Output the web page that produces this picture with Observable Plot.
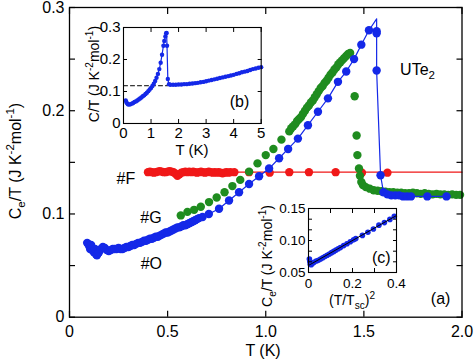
<!DOCTYPE html>
<html><head><meta charset="utf-8">
<script src="https://cdn.jsdelivr.net/npm/d3@7"></script>
<script src="https://cdn.jsdelivr.net/npm/@observablehq/plot@0.6"></script>
<style>
body{margin:0;background:#fff;}
#chart{position:relative;width:474px;height:362px;overflow:hidden;}
#chart > div{position:absolute;}
</style>
</head><body><div id="chart"></div>
<script>
// ---------- data (T in K, C/T in J K^-2 mol^-1) ----------
const sampleF = [[0.40,0.1405],[0.41,0.141],[0.42,0.1405],[0.43,0.140],[0.44,0.1405],[0.45,0.141],[0.46,0.1415],[0.47,0.141],[0.48,0.1405],[0.49,0.1405],[0.50,0.141],[0.51,0.1415],[0.52,0.141],[0.53,0.1405],[0.54,0.139],[0.55,0.137],[0.56,0.1385],[0.57,0.140],[0.58,0.1405],[0.59,0.141],[0.60,0.1405],[0.61,0.141],[0.62,0.1405],[0.63,0.141],[0.64,0.1405],[0.65,0.140],[0.66,0.1405],[0.67,0.141],[0.68,0.1405],[0.69,0.140],[0.70,0.1405],[0.71,0.141],[0.72,0.1405],[0.73,0.140],[0.74,0.1405],[0.75,0.140],[0.76,0.1405],[0.77,0.140],[0.78,0.1395],[0.79,0.140],[0.80,0.1405],[0.81,0.140],[0.82,0.1405],[0.84,0.1405],[0.915,0.1405],[1.02,0.140],[1.12,0.1405],[1.22,0.1405],[1.356,0.1405],[1.49,0.140],[1.62,0.140]];
const lineF = [[0.40,0.1405],[2.0,0.1405]];

const sampleG = [[0.567,0.0986],[0.601,0.102],[0.635,0.104],[0.669,0.107],[0.711,0.1115],[0.75,0.116],[0.79,0.121],[0.83,0.127],[0.87,0.133],[0.915,0.141],[0.958,0.149],[1.0,0.157],[1.039,0.163],[1.08,0.172],[1.12,0.180],[1.13,0.183],[1.14,0.185],[1.15,0.187],[1.16,0.190],[1.17,0.192],[1.18,0.194],[1.19,0.197],[1.20,0.200],[1.21,0.203],[1.22,0.205],[1.23,0.208],[1.24,0.210],[1.25,0.213],[1.26,0.216],[1.27,0.219],[1.28,0.222],[1.29,0.224],[1.30,0.227],[1.31,0.229],[1.32,0.232],[1.33,0.235],[1.34,0.237],[1.35,0.240],[1.36,0.242],[1.37,0.245],[1.38,0.247],[1.39,0.249],[1.40,0.251],[1.41,0.253],[1.42,0.255],[1.43,0.256],[1.453,0.214],[1.463,0.176],[1.467,0.157],[1.475,0.144],[1.48,0.137],[1.487,0.131],[1.495,0.128],[1.51,0.126],[1.53,0.1245],[1.55,0.123],[1.57,0.1225],[1.59,0.122],[1.61,0.1215],[1.63,0.121],[1.65,0.121],[1.67,0.1205],[1.69,0.1205],[1.71,0.120],[1.73,0.120],[1.75,0.1205],[1.77,0.120],[1.79,0.1195],[1.81,0.120],[1.83,0.1195],[1.85,0.119],[1.87,0.1195],[1.89,0.119],[1.91,0.119],[1.93,0.1185],[1.95,0.119],[1.97,0.1185],[1.99,0.1185]];

const sampleO = [[0.09,0.072],[0.095,0.071],[0.10,0.069],[0.105,0.066],[0.11,0.070],[0.115,0.067],[0.12,0.064],[0.125,0.063],[0.13,0.066],[0.135,0.061],[0.14,0.060],[0.145,0.062],[0.15,0.063],[0.16,0.066],[0.17,0.068],[0.18,0.067],[0.19,0.065],[0.20,0.064],[0.21,0.065],[0.22,0.066],[0.23,0.066],[0.24,0.066],[0.25,0.067],[0.26,0.066],[0.27,0.066],[0.28,0.067],[0.29,0.068],[0.30,0.068],[0.31,0.069],[0.32,0.070],[0.33,0.070],[0.34,0.071],[0.35,0.072],[0.36,0.072],[0.37,0.073],[0.38,0.074],[0.39,0.074],[0.40,0.075],[0.41,0.076],[0.42,0.076],[0.43,0.077],[0.44,0.078],[0.45,0.078],[0.46,0.079],[0.47,0.080],[0.48,0.081],[0.49,0.082],[0.50,0.082],[0.51,0.083],[0.52,0.084],[0.53,0.085],[0.54,0.086],[0.55,0.087],[0.56,0.087],[0.57,0.088],[0.58,0.089],[0.59,0.089],[0.60,0.090],[0.61,0.091],[0.62,0.092],[0.63,0.093],[0.64,0.094],[0.65,0.095],[0.66,0.096],[0.678,0.097],[0.71,0.100],[0.762,0.105],[0.813,0.113],[0.864,0.121],[0.915,0.129],[0.966,0.1365],[1.017,0.144],[1.068,0.154],[1.114,0.163],[1.164,0.173],[1.215,0.186],[1.266,0.199],[1.317,0.212],[1.368,0.228],[1.41,0.238],[1.45,0.250],[1.487,0.264],[1.526,0.278],[1.565,0.277],[1.565,0.275],[1.565,0.239],[1.585,0.1375],[1.60,0.121],[1.62,0.119],[1.64,0.118],[1.66,0.118],[1.68,0.118],[1.70,0.117],[1.72,0.117],[1.74,0.117],[1.823,0.117],[1.921,0.117]];
const peakO = [1.565,0.289]; // top of the drawn line for #O

// inset (b): C/T vs T up to 5 K
const insetB = [[0.08,0.072],[0.1,0.068],[0.13,0.063],[0.16,0.060],[0.2,0.059],[0.25,0.060],[0.3,0.062],[0.35,0.064],[0.4,0.067],[0.45,0.069],[0.5,0.072],[0.55,0.075],[0.6,0.078],[0.65,0.081],[0.7,0.085],[0.75,0.088],[0.8,0.092],[0.85,0.096],[0.9,0.101],[0.95,0.106],[1.0,0.111],[1.05,0.117],[1.1,0.124],[1.15,0.133],[1.2,0.143],[1.25,0.155],[1.3,0.170],[1.35,0.190],[1.4,0.215],[1.45,0.243],[1.48,0.258],[1.52,0.272],[1.55,0.282],[1.565,0.283],[1.58,0.243],[1.61,0.139],[1.65,0.123],[1.7,0.121],[1.8,0.121],[1.9,0.121],[2.0,0.122],[2.1,0.122],[2.2,0.123],[2.3,0.123],[2.4,0.124],[2.5,0.125],[2.6,0.126],[2.7,0.127],[2.8,0.129],[2.9,0.130],[3.0,0.132],[3.1,0.134],[3.2,0.136],[3.3,0.138],[3.4,0.140],[3.5,0.142],[3.6,0.144],[3.7,0.146],[3.8,0.148],[3.9,0.150],[4.0,0.152],[4.1,0.155],[4.2,0.157],[4.3,0.160],[4.4,0.162],[4.5,0.164],[4.6,0.167],[4.7,0.170],[4.8,0.172],[4.9,0.174],[5.0,0.176]];
const insetBDash = [[0,0.118],[1.6,0.118]];

// inset (c): Ce/T vs (T/Tsc)^2
const insetC = [[0.004,0.071],[0.006,0.067],[0.008,0.063],[0.012,0.062],[0.018,0.064],[0.025,0.066],[0.035,0.068],[0.045,0.069],[0.055,0.071],[0.065,0.073],[0.075,0.075],[0.085,0.077],[0.095,0.079],[0.105,0.081],[0.115,0.083],[0.125,0.085],[0.135,0.087],[0.145,0.089],[0.16,0.092],[0.175,0.095],[0.19,0.098],[0.205,0.101],[0.215,0.103],[0.245,0.108],[0.27,0.113],[0.295,0.118],[0.32,0.124],[0.345,0.128],[0.37,0.133],[0.39,0.138]];
const insetCFit = [[0,0.061],[0.4,0.139]];

// ticks
const mainXTicks = [0,0.5,1,1.5,2];
const mainXLabels = ["0","0.5","1.0","1.5","2.0"];
const mainYTicks = [0,0.05,0.1,0.15,0.2,0.25,0.3];
const mainYLabelTicks = [0,0.1,0.2,0.3];
const mainYLabels = ["0","0.1","0.2","0.3"];
const bXTicks = [0,1,2,3,4,5];
const bYTicks = [0,0.1,0.2,0.3];
const bYLabels = ["0","0.1","0.2","0.3"];
const cXTicks = [0,0.1,0.2,0.3,0.4];
const cXLabelTicks = [0,0.2,0.4];
const cXLabels = ["0","0.2","0.4"];
const cYTicks = [0.05,0.0667,0.0833,0.1,0.1167,0.1333,0.15];
const cYLabelTicks = [0.05,0.10,0.15];
const cYLabels = ["0.05","0.10","0.15"];

const RED = "#f01818", GREEN = "#1f8c1f", BLUE = "#1428e8";
const FONT = "'Liberation Sans', Arial, Helvetica, sans-serif";

// ---------- helpers ----------
function fmt(ticks, labels){ return d => labels[ticks.findIndex(t => Math.abs(t-d) < 1e-9)]; }
function boxAxes(o){
  return [
    Plot.axisX({ticks:o.xt, tickSize:-o.ts, text:null, label:null, strokeWidth:o.sw}),
    Plot.axisX({ticks:o.xt, tickSize:-o.ts, text:null, label:null, anchor:"top", strokeWidth:o.sw}),
    Plot.axisY({ticks:o.yt, tickSize:-o.ts, text:null, label:null, strokeWidth:o.sw}),
    Plot.axisY({ticks:o.yt, tickSize:-o.ts, text:null, label:null, anchor:"right", strokeWidth:o.sw}),
    Plot.axisX({ticks:o.xl, tickSize:0, tickPadding:o.xp, tickFormat:fmt(o.xl,o.xlab), label:null, fontSize:o.fs}),
    Plot.axisY({ticks:o.yl, tickSize:0, tickPadding:o.yp, tickFormat:fmt(o.yl,o.ylab), label:null, fontSize:o.fs}),
    Plot.frame({stroke:"#000", strokeWidth:o.fw})
  ];
}
function rich(svg, {x, y, rotate=0, anchor="middle", size=16, parts}){
  const t = d3.select(svg).append("text")
    .attr("transform", `translate(${x},${y}) rotate(${rotate})`)
    .attr("text-anchor", anchor).attr("font-size", size)
    .attr("font-family", FONT).attr("fill", "#000");
  let shift = 0;
  for (const p of parts){
    const target = p.sup ? -0.42*size : p.sub ? 0.28*size : 0;
    const s = t.append("tspan").attr("dy", target - shift).text(p.t);
    if (p.sup || p.sub) s.attr("font-size", size*0.72);
    shift = target;
  }
}
const P = a => ({x:a[0], y:a[1]});

// ---------- main plot ----------
const dotsO = sampleO.map(P);
const k = sampleO.findIndex(d => d[0] >= peakO[0]);
const lineO = [...sampleO.slice(0,k), peakO, ...sampleO.slice(k)].map(P);

const main = Plot.plot({
  width: 474, height: 362,
  marginLeft: 69, marginRight: 12.5, marginTop: 7, marginBottom: 45.3,
  style: {fontFamily: FONT, fontSize: "16px", background: "transparent", color: "#000"},
  x: {domain: [0, 2]},
  y: {domain: [0, 0.3]},
  marks: [
    Plot.line(lineF.map(P), {x:"x", y:"y", stroke:RED, strokeWidth:1.2}),
    Plot.dot(sampleF.map(P), {x:"x", y:"y", r:4.2, fill:RED, stroke:"none"}),
    Plot.dot(sampleG.map(P), {x:"x", y:"y", r:4.2, fill:GREEN, stroke:"none"}),
    Plot.line(lineO, {x:"x", y:"y", stroke:BLUE, strokeWidth:1.2}),
    Plot.dot(dotsO, {x:"x", y:"y", r:4.2, fill:BLUE, stroke:"none"}),
    Plot.text(["#F"], {x:[0.2875], y:[0.1336], text:d=>d, fontSize:16, fill:"#000"}),
    Plot.text(["#G"], {x:[0.415], y:[0.0962], text:d=>d, fontSize:16, fill:"#000"}),
    Plot.text(["#O"], {x:[0.417], y:[0.0516], text:d=>d, fontSize:16, fill:"#000"}),
    Plot.text(["(a)"], {x:[1.891], y:[0.0177], text:d=>d, fontSize:16, fill:"#000"}),
    ...boxAxes({xt:mainXTicks, yt:mainYTicks, xl:mainXTicks, xlab:mainXLabels, yl:mainYLabelTicks, ylab:mainYLabels, ts:6, xp:8, yp:5, fs:16, sw:1.2, fw:1.3})
  ]
});
const sx = main.scale("x"), sy = main.scale("y");
rich(main, {x: sx.apply(1.687), y: sy.apply(0.24)+6, anchor:"start", size:16, parts:[{t:"UTe"},{t:"2", sub:true}]});
rich(main, {x: 263, y: 356, size:16, parts:[{t:"T (K)"}]});
rich(main, {x: 21, y: 161, rotate:-90, size:16, parts:[{t:"C"},{t:"e",sub:true},{t:"/T (J K"},{t:"-2",sup:true},{t:"mol"},{t:"-1",sup:true},{t:")"}]});
// inset axis titles (drawn in main SVG coordinates)
rich(main, {x: 99, y: 74, rotate:-90, size:14, parts:[{t:"C/T (J K"},{t:"-2",sup:true},{t:"mol"},{t:"-1",sup:true},{t:")"}]});
rich(main, {x: 192, y: 155, size:15, parts:[{t:"T (K)"}]});
rich(main, {x: 272, y: 256, rotate:-90, size:14, parts:[{t:"C"},{t:"e",sub:true},{t:"/T (J K"},{t:"-2",sup:true},{t:"mol"},{t:"-1",sup:true},{t:")"}]});
rich(main, {x: 352, y: 305, size:14, parts:[{t:"(T/T"},{t:"sc",sub:true},{t:")"},{t:"2",sup:true}]});

// ---------- inset (b) ----------
const plotB = Plot.plot({
  width: 192.7, height: 141,
  marginLeft: 40, marginRight: 15, marginTop: 15, marginBottom: 30,
  style: {fontFamily: FONT, fontSize: "15px", background: "transparent", color: "#000"},
  x: {domain: [0, 5]},
  y: {domain: [0, 0.3]},
  marks: [
    Plot.line(insetBDash.map(P), {x:"x", y:"y", stroke:"#000", strokeWidth:1, strokeDasharray:"4,3"}),
    Plot.line(insetB.map(P), {x:"x", y:"y", stroke:BLUE, strokeWidth:1.2}),
    Plot.dot(insetB.map(P), {x:"x", y:"y", r:2.2, fill:BLUE, stroke:"none"}),
    Plot.text(["(b)"], {x:[4.21], y:[0.068], text:d=>d, fontSize:16, fill:"#000"}),
    ...boxAxes({xt:bXTicks, yt:bYTicks, xl:bXTicks, xlab:bXTicks.map(String), yl:bYTicks, ylab:bYLabels, ts:4, xp:4, yp:3, fs:15, sw:1, fw:1.1})
  ]
});

// ---------- inset (c) ----------
const plotC = Plot.plot({
  width: 140, height: 101,
  marginLeft: 40, marginRight: 12, marginTop: 15, marginBottom: 22,
  style: {fontFamily: FONT, fontSize: "13px", background: "transparent", color: "#000"},
  x: {domain: [0, 0.4]},
  y: {domain: [0.05, 0.15]},
  marks: [
    Plot.dot(insetC.map(P), {x:"x", y:"y", r:2.8, fill:BLUE, stroke:"none"}),
    Plot.line(insetCFit.map(P), {x:"x", y:"y", stroke:"#000", strokeWidth:1}),
    Plot.text(["(c)"], {x:[0.331], y:[0.0727], text:d=>d, fontSize:16, fill:"#000"}),
    ...boxAxes({xt:cXTicks, yt:cYTicks, xl:cXLabelTicks, xlab:cXLabels, yl:cYLabelTicks, ylab:cYLabels, ts:4, xp:6, yp:3, fs:13.5, sw:1, fw:1.1})
  ]
});

const chart = document.getElementById("chart");
function place(node, left, top){ const d = document.createElement("div"); d.style.left = left+"px"; d.style.top = top+"px"; d.appendChild(node); chart.appendChild(d); }
place(main, 0, 0);
place(plotB, 83.3, 11.7);
place(plotC, 268, 193);
</script>
</body></html>
